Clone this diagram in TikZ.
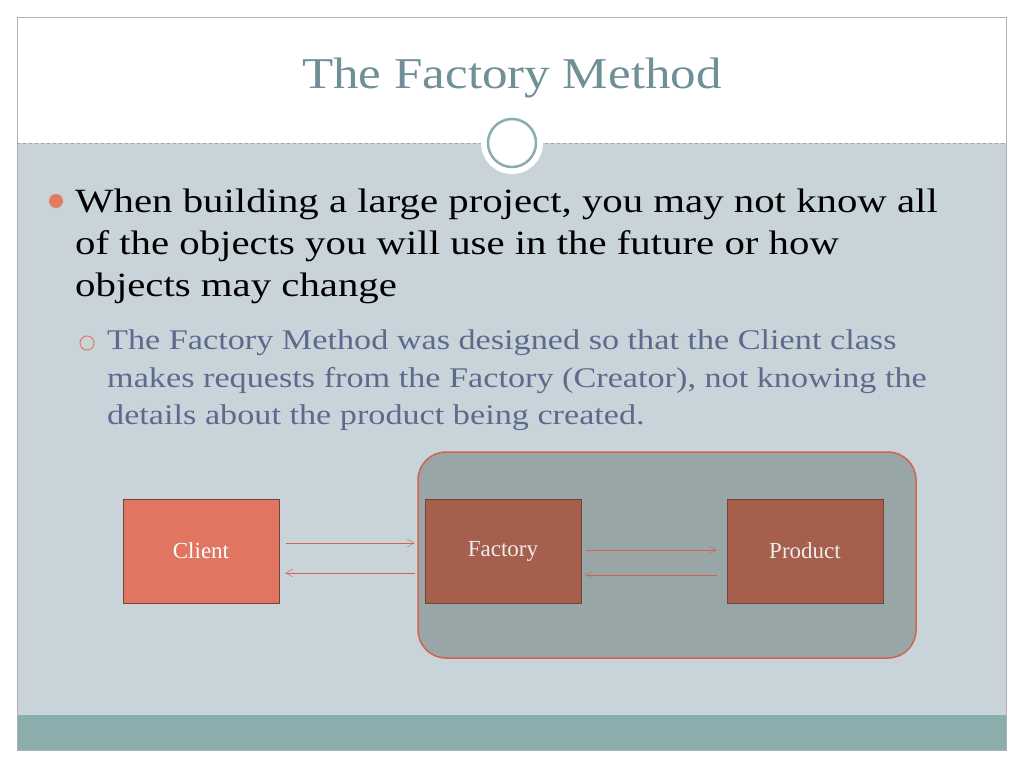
\documentclass[tikz,border=0pt]{standalone}
\usepackage{fontspec}
\setmainfont{Liberation Serif}
\newfontfamily\titlefont[FakeStretch=1.16]{Liberation Serif}
\newfontfamily\mainfont[FakeStretch=1.2]{Liberation Serif}
\newfontfamily\subfont[FakeStretch=1.2]{Liberation Serif}
\usetikzlibrary{positioning,arrows.meta}
\definecolor{titlecol}{HTML}{6F9096}
\definecolor{bodybg}{HTML}{C8D4DA}
\definecolor{bandcol}{HTML}{8AADAE}
\definecolor{subcol}{HTML}{5C6B8C}
\definecolor{dotcol}{HTML}{E07A60}
\definecolor{clientcol}{HTML}{E07562}
\definecolor{boxcol}{HTML}{A65F4D}
\definecolor{groupcol}{HTML}{99A6A8}
\definecolor{edgecol}{HTML}{D0644C}
\tikzset{
  classbox/.style={draw=boxcol!70!black, line width=1pt, minimum width=156pt, minimum height=104pt, font=\fontsize{23}{26}\selectfont},
  link/.style={draw=edgecol, -{Straight Barb[length=7pt,width=8pt]}}
}
\begin{document}
\begin{tikzpicture}[x=1pt,y=-1pt]
	\useasboundingbox (0,0) rectangle (1024,768);
	\fill[white] (0,0) rectangle (1024,768);
	% slide body
	\fill[bodybg] (17,143) rectangle (1006,715);
	\fill[bandcol] (17,715) rectangle (1006,750);
	\draw[gray!60] (17,17) rectangle (1006,750);
	\draw[bandcol, dashed] (17,143) -- (1006,143);
	\node[font=\titlefont\fontsize{44}{50}\selectfont, text=titlecol] (title) at (512,78) {The Factory Method};
	\fill[white] (512,143) circle (31);
	\draw[bandcol, line width=2.5pt] (512,143) circle (24);
	% bullets
	\fill[dotcol] (56,201) circle (7);
	\node[anchor=north west, align=left, inner sep=0pt, font=\mainfont\fontsize{34}{42}\selectfont] (main) at (75,189)
		{When building a large project, you may not know all\\of the objects you will use in the future or how\\objects may change};
	\draw[dotcol, line width=1pt] (87,343) circle (7);
	\node[anchor=north west, align=left, inner sep=0pt, text=subcol, font=\subfont\fontsize{28.5}{37.5}\selectfont] (sub) at (107,330)
		{The Factory Method was designed so that the Client class\\makes requests from the Factory (Creator), not knowing the\\details about the product being created.};
	% diagram
	\draw[edgecol, fill=groupcol, line width=1.5pt, rounded corners=28pt] (418,452) rectangle (916,658);
	\node[classbox, fill=clientcol, text=white] (client) at (201,551) {Client};
	\node[classbox, fill=boxcol, text=white!85!gray] (factory) at (503,551) {Factory};
	\node[classbox, fill=boxcol, text=white!85!gray] (product) at (805,551) {Product};
	\draw[link] ([xshift=6pt,yshift=8pt]client.east) -- ([xshift=-10pt,yshift=8pt]factory.west);
	\draw[link] ([xshift=-10pt,yshift=-22pt]factory.west) -- ([xshift=6pt,yshift=-22pt]client.east);
	\draw[link] ([xshift=4pt,yshift=1pt]factory.east) -- ([xshift=-10pt,yshift=1pt]product.west);
	\draw[link] ([xshift=-10pt,yshift=-24pt]product.west) -- ([xshift=4pt,yshift=-24pt]factory.east);
\end{tikzpicture}
\end{document}
